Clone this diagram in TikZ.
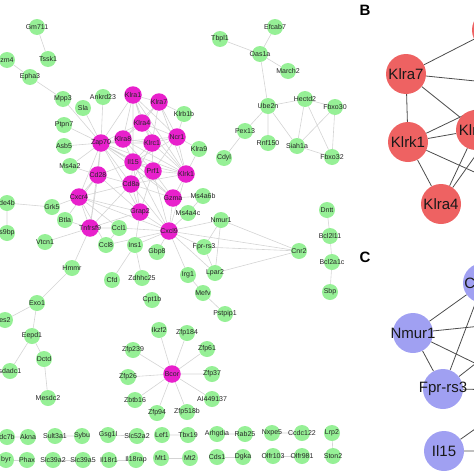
\documentclass[tikz,border=0pt]{standalone}
\usepackage{fontspec}
\setmainfont{Liberation Sans}
\usetikzlibrary{backgrounds}
\definecolor{genegreen}{RGB}{150,240,150}
\definecolor{genepink}{RGB}{232,32,204}
\definecolor{genered}{RGB}{238,98,98}
\definecolor{geneblue}{RGB}{160,160,242}
\definecolor{linkgray}{RGB}{212,212,212}
\tikzset{
  genetext/.style={font=\fontsize{7}{8}\selectfont,inner sep=0pt,text=black!85},
  gene/.style={circle,fill=genegreen,minimum size=16pt,inner sep=0pt,
    label={[genetext]center:#1}},
  hub/.style={gene=#1,fill=genepink,minimum size=17.5pt},
  bigtext/.style={font=\fontsize{15}{16}\selectfont,inner sep=0pt,text=black!90},
  bigred/.style={circle,fill=genered,minimum size=40pt,inner sep=0pt,
    label={[bigtext]center:#1}},
  bigblue/.style={bigred=#1,fill=geneblue},
  link/.style={draw=linkgray,line width=0.6pt},
  tie/.style={draw=black!70,line width=0.8pt},
  panel/.style={font=\fontsize{15}{16}\selectfont\bfseries,inner sep=0pt}
}
\begin{document}
\begin{tikzpicture}[x=1pt,y=-1pt]
	\useasboundingbox (0,0) rectangle (474,474);

	% panel A
	\node[gene=Gm711] (gm711) at (37,27) {};
	\node[gene=zm4] (zm4) at (7,60) {};
	\node[gene=Tssk1] (tssk1) at (48,59) {};
	\node[gene=Epha3] (epha3) at (30,77) {};
	\node[gene=Mpp3] (mpp3) at (63,99) {};
	\node[gene=Sla] (sla) at (83,108) {};
	\node[gene=Ankrd23] (ankrd23) at (103,97) {};
	\node[gene=Klrb1b] (klrb1b) at (184,114) {};
	\node[gene=Ptpn7] (ptpn7) at (64,125) {};
	\node[gene=Klra9] (klra9) at (199,149) {};
	\node[gene=Asb5] (asb5) at (64,146) {};
	\node[gene=Ms4a2] (ms4a2) at (70,166) {};
	\node[gene=Ms4a6b] (ms4a6b) at (203,196) {};
	\node[gene=Ms4a4c] (ms4a4c) at (188,213) {};
	\node[gene=Grk5] (grk5) at (52,207) {};
	\node[gene=de4b] (de4b) at (7,203) {};
	\node[gene=Btla] (btla) at (65,220) {};
	\node[gene=Ccl1] (ccl1) at (119,228) {};
	\node[gene=Nmur1] (nmur1) at (221,220) {};
	\node[gene=s9bp] (s9bp) at (7,233) {};
	\node[gene=Vtcn1] (vtcn1) at (45,242) {};
	\node[gene=Ccl8] (ccl8) at (106,245) {};
	\node[gene=Ins1] (ins1) at (135,245) {};
	\node[gene=Gbp8] (gbp8) at (157,252) {};
	\node[gene=Fpr-rs3] (fprrs3) at (204,247) {};
	\node[gene=Cnr2] (cnr2) at (299,251) {};
	\node[gene=Hmmr] (hmmr) at (72,268) {};
	\node[gene=Cfd] (cfd) at (112,280) {};
	\node[gene=Zdhhc25] (zdhhc25) at (142,278) {};
	\node[gene=Irg1] (irg1) at (188,275) {};
	\node[gene=Lpar2] (lpar2) at (215,273) {};
	\node[gene=Mefv] (mefv) at (203,293) {};
	\node[gene=Cpt1b] (cpt1b) at (152,300) {};
	\node[gene=Exo1] (exo1) at (37,303) {};
	\node[gene=Pstpip1] (pstpip1) at (225,314) {};
	\node[gene=es2] (es2) at (5,320) {};
	\node[gene=Eepd1] (eepd1) at (32,336) {};
	\node[gene=Ikzf2] (ikzf2) at (159,330) {};
	\node[gene=Zfp184] (zfp184) at (187,333) {};
	\node[gene=Zfp239] (zfp239) at (133,350) {};
	\node[gene=Zfp61] (zfp61) at (207,349) {};
	\node[gene=Dctd] (dctd) at (44,359) {};
	\node[gene=sdadc1] (sdadc1) at (10,371) {};
	\node[gene=Zfp26] (zfp26) at (128,377) {};
	\node[gene=Zfp37] (zfp37) at (212,374) {};
	\node[gene=Mesdc2] (mesdc2) at (48,398) {};
	\node[gene=Zbtb16] (zbtb16) at (135,400) {};
	\node[gene=AI449137] (ai449137) at (212,399) {};
	\node[gene=Zfp94] (zfp94) at (157,413) {};
	\node[gene=Zfp518b] (zfp518b) at (187,412) {};

	\node[hub=Klra1] (klra1) at (133,95) {};
	\node[hub=Klra7] (klra7) at (159,102) {};
	\node[hub=Klra4] (klra4) at (142,123) {};
	\node[hub=Zap70] (zap70) at (101,143) {};
	\node[hub=Klra8] (klra8) at (123,139) {};
	\node[hub=Klrc1] (klrc1) at (152,143) {};
	\node[hub=Ncr1] (ncr1) at (177,137) {};
	\node[hub=Il15] (il15) at (133,162) {};
	\node[hub=Prf1] (prf1) at (153,171) {};
	\node[hub=Klrk1] (klrk1) at (186,174) {};
	\node[hub=Cd28] (cd28) at (98,175) {};
	\node[hub=Cd8a] (cd8a) at (131,184) {};
	\node[hub=Cxcr4] (cxcr4) at (79,197) {};
	\node[hub=Gzma] (gzma) at (173,198) {};
	\node[hub=Grap2] (grap2) at (140,212) {};
	\node[hub=Tnfrsf9] (tnfrsf9) at (90,228) {};
	\node[hub=Cxcl9] (cxcl9) at (169,231) {};
	\node[hub=Bcor] (bcor) at (172,374) {};

	\node[gene=Tbpl1] (tbpl1) at (220,39) {};
	\node[gene=Efcab7] (efcab7) at (275,27) {};
	\node[gene=Oas1a] (oas1a) at (260,54) {};
	\node[gene=March2] (march2) at (288,71) {};
	\node[gene=Hectd2] (hectd2) at (305,99) {};
	\node[gene=Ube2n] (ube2n) at (268,106) {};
	\node[gene=Fbxo30] (fbxo30) at (335,107) {};
	\node[gene=Pex13] (pex13) at (245,131) {};
	\node[gene=Rnf150] (rnf150) at (268,143) {};
	\node[gene=Siah1a] (siah1a) at (297,146) {};
	\node[gene=Cdyl] (cdyl) at (224,158) {};
	\node[gene=Fbxo32] (fbxo32) at (332,157) {};
	\node[gene=Dntt] (dntt) at (327,210) {};
	\node[gene=Bcl2l11] (bcl2l11) at (330,236) {};
	\node[gene=Bcl2a1c] (bcl2a1c) at (332,262) {};
	\node[gene=Sbp] (sbp) at (330,292) {};

	\node[gene=dc7b] (dc7b) at (7,437) {};
	\node[gene=Akna] (akna) at (28,437) {};
	\node[gene=Sult3a1] (sult3a1) at (55,436) {};
	\node[gene=Sybu] (sybu) at (82,436) {};
	\node[gene=Gsg1l] (gsg1l) at (108,435) {};
	\node[gene=Slc52a2] (slc52a2) at (137,436) {};
	\node[gene=Lef1] (lef1) at (162,435) {};
	\node[gene=Tbx19] (tbx19) at (188,435) {};
	\node[gene=Arhgdia] (arhgdia) at (217,434) {};
	\node[gene=Rab25] (rab25) at (245,434) {};
	\node[gene=Nxpe5] (nxpe5) at (272,433) {};
	\node[gene=Ccdc122] (ccdc122) at (302,433) {};
	\node[gene=Lrp2] (lrp2) at (332,433) {};
	\node[gene=byr] (byr) at (6,460) {};
	\node[gene=Phax] (phax) at (27,460) {};
	\node[gene=Slc39a2] (slc39a2) at (53,460) {};
	\node[gene=Slc39a5] (slc39a5) at (83,460) {};
	\node[gene=Il18r1] (il18r1) at (109,460) {};
	\node[gene=Il18rap] (il18rap) at (136,460) {};
	\node[gene=Mt1] (mt1) at (161,458) {};
	\node[gene=Mt2] (mt2) at (190,458) {};
	\node[gene=Cds1] (cds1) at (217,457) {};
	\node[gene=Dgka] (dgka) at (243,457) {};
	\node[gene=Olfr103] (olfr103) at (273,456) {};
	\node[gene=Olfr981] (olfr981) at (302,456) {};
	\node[gene=Ston2] (ston2) at (333,456) {};

	% panel B
	\node[panel] (labelb) at (365,10) {B};
	\node[bigred={}] (bklra1) at (492,30) {};
	\node[bigred=Klra7] (bklra7) at (406,74) {};
	\node[bigred=Klrc1] (bklrc1) at (476,130) {};
	\node[bigred=Klrk1] (bklrk1) at (408,142) {};
	\node[bigred=Klra4] (bklra4) at (441,204) {};
	\coordinate (boffa) at (525,86);
	\coordinate (boffb) at (525,195);

	% panel C
	\node[panel] (labelc) at (365,257) {C};
	\node[bigblue=Cxcl9] (ccxcl9) at (483,283) {};
	\node[bigblue=Nmur1] (cnmur1) at (413,333) {};
	\node[bigblue=Fpr-rs3] (cfprrs3) at (443,389) {};
	\node[bigblue=Il15] (cil15) at (444,451) {};
	\coordinate (coffa) at (530,321);
	\coordinate (coffb) at (530,390);
	\coordinate (coffc) at (530,451);

	\begin{scope}[on background layer]
		\draw[link] (gm711) -- (tssk1) (zm4) -- (epha3) (epha3) -- (mpp3);
		\draw[link] (zap70) -- (mpp3) (zap70) -- (sla) (zap70) -- (ankrd23)
			(zap70) -- (ptpn7) (zap70) -- (asb5) (zap70) -- (ms4a2);
		\draw[link] (zap70) -- (klra1) (zap70) -- (klra8) (zap70) -- (klrc1)
			(zap70) -- (il15) (zap70) -- (cd28) (zap70) -- (cd8a) (zap70) -- (cxcr4)
			(zap70) -- (grap2) (zap70) -- (tnfrsf9) (zap70) -- (prf1) (zap70) -- (klrk1)
			(zap70) -- (ncr1) (zap70) -- (klra4) (zap70) -- (gzma);
		\draw[link] (klra1) -- (klra7) (klra1) -- (klra4) (klra1) -- (klra8)
			(klra1) -- (klrc1) (klra1) -- (ncr1) (klra1) -- (klrk1) (klra1) -- (il15);
		\draw[link] (klra7) -- (klra4) (klra7) -- (klrc1) (klra7) -- (klrk1)
			(klra7) -- (ncr1) (klra7) -- (klrb1b) (klra7) -- (klra8);
		\draw[link] (klra4) -- (klra8) (klra4) -- (klrc1) (klra4) -- (klrk1) (klra4) -- (ncr1);
		\draw[link] (klra8) -- (klrc1) (klra8) -- (il15) (klra8) -- (klrk1) (klra8) -- (prf1);
		\draw[link] (klrc1) -- (ncr1) (klrc1) -- (klrk1) (klrc1) -- (il15)
			(klrc1) -- (prf1) (klrc1) -- (cd8a);
		\draw[link] (ncr1) -- (klrk1) (ncr1) -- (klrb1b) (ncr1) -- (il15)
			(ncr1) -- (prf1) (ncr1) -- (klra9);
		\draw[link] (il15) -- (prf1) (il15) -- (cd8a) (il15) -- (klrk1) (il15) -- (cd28)
			(il15) -- (cxcl9) (il15) -- (gzma) (il15) -- (grap2);
		\draw[link] (prf1) -- (gzma) (prf1) -- (cd8a) (prf1) -- (klrk1)
			(prf1) -- (grap2) (prf1) -- (cxcl9);
		\draw[link] (klrk1) -- (gzma) (klrk1) -- (klra9) (klrk1) -- (cd8a) (klrk1) -- (cxcl9);
		\draw[link] (cd28) -- (cd8a) (cd28) -- (cxcr4) (cd28) -- (grap2)
			(cd28) -- (tnfrsf9) (cd28) -- (btla) (cd28) -- (ms4a2);
		\draw[link] (cd8a) -- (gzma) (cd8a) -- (grap2) (cd8a) -- (cxcl9)
			(cd8a) -- (cxcr4) (cd8a) -- (tnfrsf9);
		\draw[link] (gzma) -- (cxcl9) (gzma) -- (ms4a6b) (ms4a6b) -- (ms4a4c);
		\draw[link] (cxcr4) -- (grk5) (cxcr4) -- (cxcl9) (cxcr4) -- (tnfrsf9)
			(cxcr4) -- (ccl1) (cxcr4) -- (ccl8) (cxcr4) -- (grap2);
		\draw[link] (grap2) -- (cxcl9) (grap2) -- (tnfrsf9) (grap2) -- (ins1);
		\draw[link] (tnfrsf9) -- (btla) (tnfrsf9) -- (hmmr) (tnfrsf9) -- (vtcn1) (tnfrsf9) -- (ccl1);
		\draw[link] (cxcl9) -- (ccl1) (cxcl9) -- (ccl8) (cxcl9) -- (ins1) (cxcl9) -- (gbp8)
			(cxcl9) -- (irg1) (cxcl9) -- (lpar2) (cxcl9) -- (fprrs3) (cxcl9) -- (nmur1)
			(cxcl9) -- (cnr2) (cxcl9) -- (ms4a4c);
		\draw[link] (ccl1) -- (ccl8) (grk5) -- (de4b) (de4b) -- (s9bp);
		\draw[link] (fprrs3) -- (nmur1) (fprrs3) -- (lpar2) (fprrs3) -- (cnr2)
			(nmur1) -- (lpar2) (nmur1) -- (cnr2) (lpar2) -- (cnr2);
		\draw[link] (irg1) -- (mefv) (mefv) -- (pstpip1) (ins1) -- (cfd) (ins1) -- (zdhhc25);
		\draw[link] (hmmr) -- (exo1) (exo1) -- (es2) (exo1) -- (eepd1)
			(eepd1) -- (sdadc1) (eepd1) -- (dctd) (dctd) -- (mesdc2);
		\draw[link] (bcor) -- (ikzf2) (bcor) -- (zfp184) (bcor) -- (zfp61) (bcor) -- (zfp37)
			(bcor) -- (ai449137) (bcor) -- (zfp518b) (bcor) -- (zfp94) (bcor) -- (zbtb16)
			(bcor) -- (zfp26) (bcor) -- (zfp239);
		\draw[link] (tbpl1) -- (oas1a) (efcab7) -- (oas1a) (march2) -- (oas1a) (oas1a) -- (ube2n);
		\draw[link] (ube2n) -- (hectd2) (ube2n) -- (pex13) (ube2n) -- (rnf150) (ube2n) -- (siah1a);
		\draw[link] (hectd2) -- (siah1a) (hectd2) -- (fbxo30) (hectd2) -- (fbxo32)
			(siah1a) -- (fbxo30) (siah1a) -- (fbxo32) (fbxo30) -- (fbxo32);
		\draw[link] (pex13) -- (cdyl);
		\draw[link] (dntt) -- (bcl2l11) (bcl2l11) -- (bcl2a1c) (bcl2a1c) -- (sbp);
		\draw[link] (dc7b) -- (akna) (sult3a1) -- (sybu) (gsg1l) -- (slc52a2)
			(lef1) -- (tbx19) (arhgdia) -- (rab25) (nxpe5) -- (ccdc122) (lrp2) -- (ston2);
		\draw[link] (byr) -- (phax) (slc39a2) -- (slc39a5) (il18r1) -- (il18rap)
			(mt1) -- (mt2) (cds1) -- (dgka) (olfr103) -- (olfr981);

		\draw[tie] (bklra7) -- (bklra1) (bklra7) -- (boffa) (bklra7) -- (bklrc1) (bklra7) -- (bklrk1);
		\draw[tie] (bklrk1) -- (boffa) (bklrk1) -- (bklrc1) (bklrk1) -- (boffb) (bklrk1) -- (bklra4);
		\draw[tie] (bklra4) -- (bklrc1) (bklra4) -- (boffa);

		\draw[tie] (cnmur1) -- (ccxcl9) (cnmur1) -- (coffa) (cnmur1) -- (coffb) (cnmur1) -- (cfprrs3);
		\draw[tie] (cfprrs3) -- (ccxcl9) (cfprrs3) -- (coffa) (cfprrs3) -- (coffb);
		\draw[tie] (cil15) -- (coffb) (cil15) -- (coffc);
	\end{scope}

\end{tikzpicture}
\end{document}
